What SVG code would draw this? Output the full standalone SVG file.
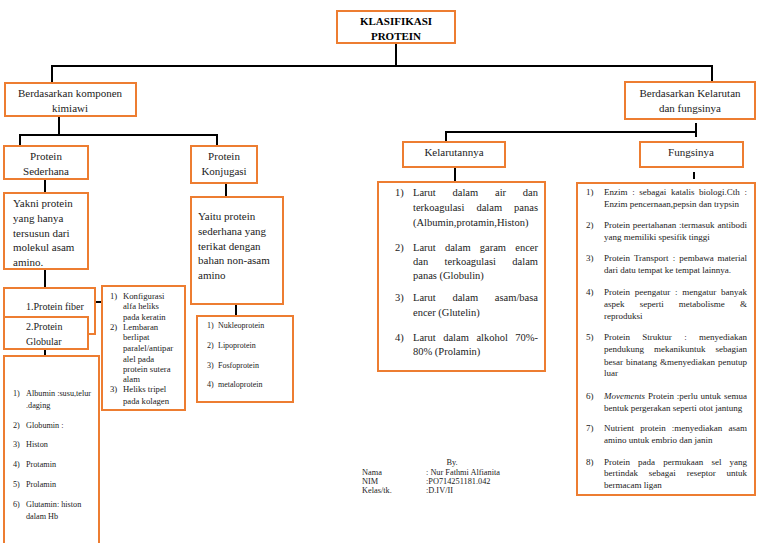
<svg xmlns="http://www.w3.org/2000/svg" width="768" height="543" viewBox="0 0 768 543">
<style>
.box{fill:#fff;stroke:#ED7D31;stroke-width:2}
.ln{stroke:#000;stroke-width:2;fill:none}
text{font-family:"Liberation Serif","Times New Roman",serif;fill:#222}
.c{text-anchor:middle}
.e{text-anchor:end}
.b{font-weight:bold;fill:#000}
.s11{font-size:11px}
.s10{font-size:10px}
.s105{font-size:10.5px}
.s87{font-size:8.7px}
.s82{font-size:8.2px}
.s8{font-size:8px}
.s9{font-size:9px}
.s83{font-size:8.3px}
</style>
<rect width="768" height="543" fill="#fff"/>
<g id="connectors">
<path class="ln" d="M396 43V66"/>
<path class="ln" d="M52 83V66H712V82"/>
<path class="ln" d="M59 116V135"/>
<path class="ln" d="M20 146V135H217V146"/>
<path class="ln" d="M45 179V193"/>
<path class="ln" d="M45 269V288"/>
<path class="ln" d="M95 302H102"/>
<path class="ln" d="M45 349V356"/>
<path class="ln" d="M226 183V197"/>
<path class="ln" d="M236 304V315"/>
<path class="ln" d="M446 142V132H696"/>
<path class="ln" d="M696 123V137"/>
<path class="ln" d="M455 167V182"/>
<path class="ln" d="M694 172V179"/>
</g>
<g id="title">
<rect class="box" x="337" y="11" width="118" height="32"/>
<text class="c b s11" x="396" y="25">KLASIFIKASI</text>
<text class="c b s11" x="396" y="40">PROTEIN</text>
</g>
<g id="komponen">
<rect class="box" x="5" y="83" width="131" height="33"/>
<text class="c s11" x="70" y="97">Berdasarkan komponen</text>
<text class="c s11" x="70" y="112">kimiawi</text>
</g>
<g id="kelarutan-fungsi">
<rect class="box" x="625" y="82" width="130" height="37"/>
<text class="c s11" x="690" y="97">Berdasarkan Kelarutan</text>
<text class="c s11" x="690" y="112">dan fungsinya</text>
</g>
<g id="sederhana">
<rect class="box" x="4" y="146" width="84" height="33"/>
<text class="c s11" x="46" y="160">Protein</text>
<text class="c s11" x="46" y="175">Sederhana</text>
</g>
<g id="konjugasi">
<rect class="box" x="191" y="146" width="66" height="37"/>
<text class="c s11" x="224" y="160">Protein</text>
<text class="c s11" x="224" y="175">Konjugasi</text>
</g>
<g id="yakni">
<rect class="box" x="4" y="193" width="84" height="76"/>
<text class="s11" x="13" y="207">Yakni protein</text>
<text class="s11" x="13" y="222">yang hanya</text>
<text class="s11" x="13" y="237">tersusun dari</text>
<text class="s11" x="13" y="251">molekul asam</text>
<text class="s11" x="13" y="266">amino.</text>
</g>
<g id="yaitu">
<rect class="box" x="191" y="197" width="92" height="107"/>
<text class="s11" x="198" y="220">Yaitu protein</text>
<text class="s11" x="198" y="235">sederhana yang</text>
<text class="s11" x="198" y="250">terikat dengan</text>
<text class="s11" x="198" y="264">bahan non-asam</text>
<text class="s11" x="198" y="279">amino</text>
</g>
<g id="fiber">
<rect class="box" x="4" y="288" width="91" height="46"/>
<text class="s10" x="26" y="310">1.Protein fiber</text>
</g>
<g id="globular">
<rect class="box" x="4" y="317" width="84" height="32"/>
<text class="s10" x="26" y="330">2.Protein</text>
<text class="s10" x="26" y="345">Globular</text>
</g>
<g id="konfigurasi">
<rect class="box" x="102" y="286" width="83" height="124"/>
<text class="s87" x="110" y="299">1)</text>
<text class="s87" x="123" y="299">Konfigurasi</text>
<text class="s87" x="123" y="309">alfa heliks</text>
<text class="s87" x="123" y="320">pada keratin</text>
<text class="s87" x="110" y="330">2)</text>
<text class="s87" x="123" y="330">Lembaran</text>
<text class="s87" x="123" y="340">berlipat</text>
<text class="s87" x="123" y="351">paralel/antipar</text>
<text class="s87" x="123" y="362">alel pada</text>
<text class="s87" x="123" y="372">protein sutera</text>
<text class="s87" x="123" y="382">alam</text>
<text class="s87" x="110" y="392">3)</text>
<text class="s87" x="123" y="392">Heliks tripel</text>
<text class="s87" x="123" y="404">pada kolagen</text>
</g>
<g id="globular-list">
<rect class="box" x="4" y="356" width="95" height="200"/>
<text class="s82" x="13" y="396">1)</text>
<text class="s82" x="26" y="396">Albumin :susu,telur</text>
<text class="s82" x="26" y="408">.daging</text>
<text class="s82" x="13" y="428">2)</text>
<text class="s82" x="26" y="428">Globumin :</text>
<text class="s82" x="13" y="447">3)</text>
<text class="s82" x="26" y="447">Histon</text>
<text class="s82" x="13" y="467">4)</text>
<text class="s82" x="26" y="467">Protamin</text>
<text class="s82" x="13" y="487">5)</text>
<text class="s82" x="26" y="487">Prolamin</text>
<text class="s82" x="13" y="507">6)</text>
<text class="s82" x="26" y="507">Glutamin: histon</text>
<text class="s82" x="26" y="519">dalam Hb</text>
</g>
<g id="konjugasi-list">
<rect class="box" x="197" y="316" width="96" height="86"/>
<text class="s8" x="207" y="328">1)</text>
<text class="s8" x="218" y="328">Nukleoprotein</text>
<text class="s8" x="207" y="348">2)</text>
<text class="s8" x="218" y="348">Lipoprotein</text>
<text class="s8" x="207" y="368">3)</text>
<text class="s8" x="218" y="368">Fosfoprotein</text>
<text class="s8" x="207" y="387">4)</text>
<text class="s8" x="218" y="387">metaloprotein</text>
</g>
<g id="kelarutannya">
<rect class="box" x="403" y="142" width="102" height="25"/>
<text class="c s11" x="454" y="156">Kelarutannya</text>
</g>
<g id="kelarutan-list">
<rect class="box" x="378" y="182" width="167" height="189"/>
<g class="s105">
<text x="395" y="196">1)</text>
<text y="196"><tspan x="413">Larut</tspan><tspan x="452.5">dalam</tspan><tspan x="495">air</tspan></text>
<text class="e" x="538" y="196">dan</text>
<text y="211"><tspan x="413">terkoagulasi</tspan><tspan x="476.4">dalam</tspan></text>
<text class="e" x="538" y="211">panas</text>
<text x="413" y="226">(Albumin,protamin,Histon)</text>
<text x="395" y="251">2)</text>
<text y="251"><tspan x="413">Larut</tspan><tspan x="444.9">dalam</tspan><tspan x="479.8">garam</tspan></text>
<text class="e" x="538" y="251">encer</text>
<text y="265"><tspan x="413">dan</tspan><tspan x="444.6">terkoagulasi</tspan></text>
<text class="e" x="538" y="265">dalam</text>
<text x="413" y="279">panas (Globulin)</text>
<text x="395" y="301">3)</text>
<text y="301"><tspan x="413">Larut</tspan><tspan x="452.4">dalam</tspan></text>
<text class="e" x="538" y="301">asam/basa</text>
<text x="413" y="316">encer (Glutelin)</text>
<text x="395" y="341">4)</text>
<text y="341"><tspan x="413">Larut</tspan><tspan x="443.2">dalam</tspan><tspan x="476.4">alkohol</tspan></text>
<text class="e" x="538" y="341">70%-</text>
<text x="413" y="355">80% (Prolamin)</text>
</g>
</g>
<g id="fungsinya">
<rect class="box" x="640" y="142" width="103" height="25"/>
<text class="c s11" x="691" y="156">Fungsinya</text>
</g>
<g id="fungsi-list">
<rect class="box" x="577" y="183" width="178" height="312"/>
<g class="s9">
<text x="586" y="195">1)</text>
<text y="195"><tspan x="604">Enzim</tspan><tspan x="632.2">:</tspan><tspan x="639.3">sebagai</tspan><tspan x="671">katalis</tspan><tspan x="699.1">biologi.Cth</tspan></text>
<text class="e" x="747" y="195">:</text>
<text x="604" y="207">Enzim pencernaan,pepsin dan trypsin</text>
<text x="586" y="228">2)</text>
<text y="228"><tspan x="604">Protein</tspan><tspan x="632.8">peertahanan</tspan><tspan x="679.1">:termasuk</tspan></text>
<text class="e" x="747" y="228">antibodi</text>
<text x="604" y="240">yang memiliki spesifik tinggi</text>
<text x="586" y="261">3)</text>
<text y="261"><tspan x="604">Protein</tspan><tspan x="633.9">Transport</tspan><tspan x="672.8">:</tspan><tspan x="679.2">pembawa</tspan></text>
<text class="e" x="747" y="261">material</text>
<text x="604" y="273">dari datu tempat ke tempat lainnya.</text>
<text x="586" y="295">4)</text>
<text y="295"><tspan x="604">Protein</tspan><tspan x="634.8">peengatur</tspan><tspan x="675">:</tspan><tspan x="682.3">mengatur</tspan></text>
<text class="e" x="747" y="295">banyak</text>
<text y="307"><tspan x="604">aspek</tspan><tspan x="639.7">seperti</tspan><tspan x="678.8">metabolisme</tspan></text>
<text class="e" x="747" y="307">&amp;</text>
<text x="604" y="319">reproduksi</text>
<text x="586" y="340">5)</text>
<text y="340"><tspan x="604">Protein</tspan><tspan x="642.3">Struktur</tspan><tspan x="684.2">:</tspan></text>
<text class="e" x="747" y="340">menyediakan</text>
<text y="352"><tspan x="604">pendukung</tspan><tspan x="654">mekanikuntuk</tspan></text>
<text class="e" x="747" y="352">sebagian</text>
<text y="365"><tspan x="604">besar</tspan><tspan x="626">binatang</tspan><tspan x="660">&amp;menyediakan</tspan></text>
<text class="e" x="747" y="365">penutup</text>
<text x="604" y="376">luar</text>
<text x="586" y="399">6)</text>
<text y="399"><tspan x="604" font-style="italic">Movements</tspan><tspan x="647.9">Protein</tspan><tspan x="676.8">:perlu</tspan><tspan x="700.6">untuk</tspan></text>
<text class="e" x="747" y="399">semua</text>
<text x="604" y="411">bentuk pergerakan seperti otot jantung</text>
<text x="586" y="431">7)</text>
<text y="431"><tspan x="604">Nutrient</tspan><tspan x="640.2">protein</tspan><tspan x="671.8">:menyediakan</tspan></text>
<text class="e" x="747" y="431">asam</text>
<text x="604" y="443">amino untuk embrio dan janin</text>
<text x="586" y="465">8)</text>
<text y="465"><tspan x="604">Protein</tspan><tspan x="638.1">pada</tspan><tspan x="663.2">permukaan</tspan><tspan x="711.4">sel</tspan></text>
<text class="e" x="747" y="465">yang</text>
<text y="476"><tspan x="604">bertindak</tspan><tspan x="648.8">sebagai</tspan><tspan x="686.7">reseptor</tspan></text>
<text class="e" x="747" y="476">untuk</text>
<text x="604" y="488">bermacam ligan</text>
</g>
</g>
<g id="signature" class="s83">
<text class="c" x="452" y="465">By.</text>
<text x="362" y="475">Nama</text>
<text x="426" y="475">: Nur Fathmi Alfianita</text>
<text x="362" y="484">NIM</text>
<text x="426" y="484">:PO714251181.042</text>
<text x="362" y="493">Kelas/tk.</text>
<text x="426" y="493">:D.IV/II</text>
</g>
</svg>
